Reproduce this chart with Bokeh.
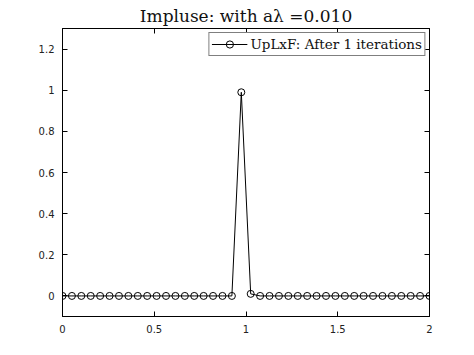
from bokeh.plotting import figure
from bokeh.models import Range1d, FixedTicker, LinearAxis, Legend, LegendItem, CustomJSTickFormatter
from bokeh.embed import file_html
from bokeh.resources import INLINE

x = [0.0, 0.0513, 0.1026, 0.1538, 0.2051, 0.2564, 0.3077, 0.3590, 0.4103, 0.4615,
     0.5128, 0.5641, 0.6154, 0.6667, 0.7179, 0.7692, 0.8205, 0.8718, 0.9231, 0.9744,
     1.0256, 1.0769, 1.1282, 1.1795, 1.2308, 1.2821, 1.3333, 1.3846, 1.4359, 1.4872,
     1.5385, 1.5897, 1.6410, 1.6923, 1.7436, 1.7949, 1.8462, 1.8974, 1.9487, 2.0]
u = [0.0] * 19 + [0.99, 0.01] + [0.0] * 19

x_ticks = [0, 0.5, 1, 1.5, 2]
x_tick_labels = ["0", "0.5", "1", "1.5", "2"]
y_ticks = [0, 0.2, 0.4, 0.6, 0.8, 1.0, 1.2]
y_tick_labels = ["0", "0.2", "0.4", "0.6", "0.8", "1", "1.2"]
title_text = "Impluse: with a\u03bb =0.010"
legend_label = "UpLxF: After 1 iterations"

p = figure(width=474, height=355, output_backend="svg", toolbar_location=None,
           x_range=Range1d(0, 2), y_range=Range1d(-0.1, 1.3),
           min_border_left=62, min_border_right=45, min_border_top=27, min_border_bottom=39,
           title=title_text)
p.title.text_font = "DejaVu Serif"
p.title.text_font_style = "normal"
p.title.text_font_size = "17px"
p.title.align = "center"
p.title.offset = 4
p.title.standoff = 6
p.title.text_color = "#111111"
p.grid.visible = False
p.outline_line_color = "black"
p.outline_line_width = 1
p.background_fill_color = "white"
p.border_fill_color = "white"

for ax, ticks, labels in ((p.xaxis[0], x_ticks, x_tick_labels), (p.yaxis[0], y_ticks, y_tick_labels)):
    ax.ticker = FixedTicker(ticks=ticks)
    ax.major_label_overrides = {t: l for t, l in zip(ticks, labels)}
    ax.major_tick_in = 5
    ax.major_tick_out = 0
    ax.minor_tick_line_color = None
    ax.axis_line_color = "black"
    ax.major_tick_line_color = "black"
    ax.major_label_text_font = "DejaVu Sans"
    ax.major_label_text_font_size = "10px"
    ax.major_label_text_color = "#222222"
    ax.major_label_standoff = 8

blank = CustomJSTickFormatter(code="return ''")
top = LinearAxis(ticker=FixedTicker(ticks=x_ticks), formatter=blank,
                 major_tick_in=5, major_tick_out=0, minor_tick_line_color=None,
                 axis_line_color="black", major_label_standoff=0)
right = LinearAxis(ticker=FixedTicker(ticks=y_ticks), formatter=blank,
                   major_tick_in=5, major_tick_out=0, minor_tick_line_color=None,
                   axis_line_color="black", major_label_standoff=0)
p.add_layout(top, "above")
p.add_layout(right, "right")

ln = p.line(x, u, line_color="black", line_width=1)
ci = p.scatter(x, u, marker="circle", size=7, line_color="black", fill_color=None, line_width=1)

legend = Legend(items=[LegendItem(label=legend_label, renderers=[ln, ci])],
                location="top_right", margin=4, padding=2, spacing=0,
                glyph_width=36, glyph_height=18, label_standoff=3,
                label_text_font="DejaVu Serif", label_text_font_size="13.5px",
                label_text_color="#111111",
                border_line_color="black", border_line_width=1,
                background_fill_color="white", background_fill_alpha=1)
p.add_layout(legend, "center")

open("out.html", "w").write(file_html(p, INLINE))
